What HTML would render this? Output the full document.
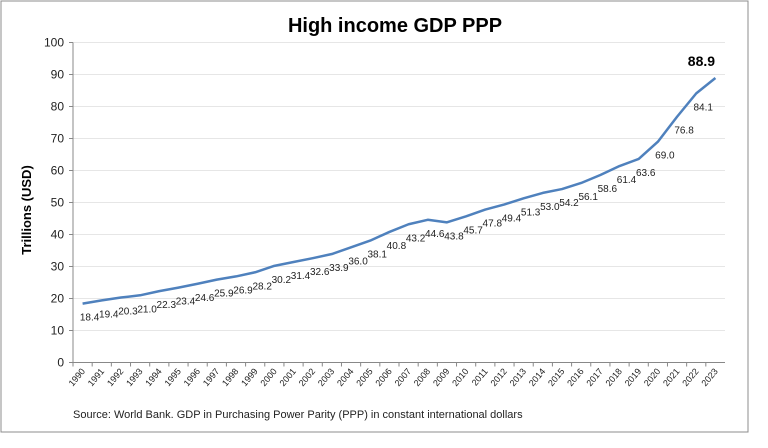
<!DOCTYPE html>
<html><head><meta charset="utf-8"><style>
body{margin:0;background:#fff;}
svg{display:block;font-family:"Liberation Sans",sans-serif;}
</style></head><body>
<svg id="chart" width="768" height="448" viewBox="0 0 768 448">
<rect x="1" y="1" width="747" height="431" fill="#fff" stroke="#8c8c8c" stroke-width="1"/>
<text x="395" y="32" text-anchor="middle" font-size="20" font-weight="bold" fill="#000">High income GDP PPP</text>
<text transform="translate(31,210) rotate(-90)" text-anchor="middle" font-size="13" font-weight="bold" fill="#000">Trillions (USD)</text>
<text x="73" y="418" font-size="11" fill="#222">Source: World Bank.  GDP in  Purchasing Power Parity (PPP)  in constant international dollars</text>
<g id="grid"></g><g id="axes"></g><g id="series"></g>
</svg>
<script>
const years=[1990,1991,1992,1993,1994,1995,1996,1997,1998,1999,2000,2001,2002,2003,2004,2005,2006,2007,2008,2009,2010,2011,2012,2013,2014,2015,2016,2017,2018,2019,2020,2021,2022,2023];
const values=[18.4,19.4,20.3,21.0,22.3,23.4,24.6,25.9,26.9,28.2,30.2,31.4,32.6,33.9,36.0,38.1,40.8,43.2,44.6,43.8,45.7,47.8,49.4,51.3,53.0,54.2,56.1,58.6,61.4,63.6,69.0,76.8,84.1,88.9];
const yTicks=[0,10,20,30,40,50,60,70,80,90,100];
const NS="http://www.w3.org/2000/svg";
const L=73,R=725,T=42.5,B=362.5;
const bw=(R-L)/years.length;
function xs(i){return L+bw*(i+0.5);}
function ys(v){return B-(v/100)*(B-T);}
function mk(tag,attrs,parent){const e=document.createElementNS(NS,tag);for(const k in attrs)e.setAttribute(k,attrs[k]);parent.appendChild(e);return e;}
const grid=document.getElementById('grid'),axes=document.getElementById('axes'),ser=document.getElementById('series');
yTicks.forEach(t=>{
  const y=ys(t);
  if(t>0){const g=mk('line',{x1:L,x2:R,y1:y,y2:y,stroke:'#e6e6e6','stroke-width':1},grid);
  
  }
  const tk=mk('line',{x1:L-4,x2:L,y1:y,y2:y,stroke:'#888'},axes);
  
  
  const lb=mk('text',{x:L-9,y:y+4,'text-anchor':'end','font-size':12,fill:'#222'},axes);
  lb.textContent=t;
  
  
});
const ya=mk('line',{x1:L,x2:L,y1:T,y2:B,stroke:'#888'},axes);


const xa=mk('line',{x1:L,x2:R,y1:B,y2:B,stroke:'#888'},axes);


years.forEach((yr,i)=>{
  const x0=L+bw*i;
  const tk=mk('line',{x1:x0,x2:x0,y1:B,y2:B+4,stroke:'#888'},axes);
  
  
  const x=xs(i);
  const lb=mk('text',{x:x+3,y:B+9,'text-anchor':'end','font-size':9,fill:'#222',transform:`rotate(-50 ${x+3} ${B+9})`},axes);
  lb.textContent=yr;
  
  
});
const pts=values.map((v,i)=>xs(i)+','+ys(v)).join(' ');
const line=mk('polyline',{points:pts,fill:'none',stroke:'#4f81bd','stroke-width':2.5,'stroke-linejoin':'round'},ser);


values.forEach((v,i)=>{
  const last=i===values.length-1;
  const x=xs(i),y=ys(v);
  const lb=mk('text',last?{x:x-14,y:y-12,'text-anchor':'middle','font-size':14,'font-weight':'bold',fill:'#000'}:{x:x+7,y:y+17,'text-anchor':'middle','font-size':10,fill:'#222'},ser);
  lb.textContent=v.toFixed(1);
  
  
});
</script>
</body></html>
